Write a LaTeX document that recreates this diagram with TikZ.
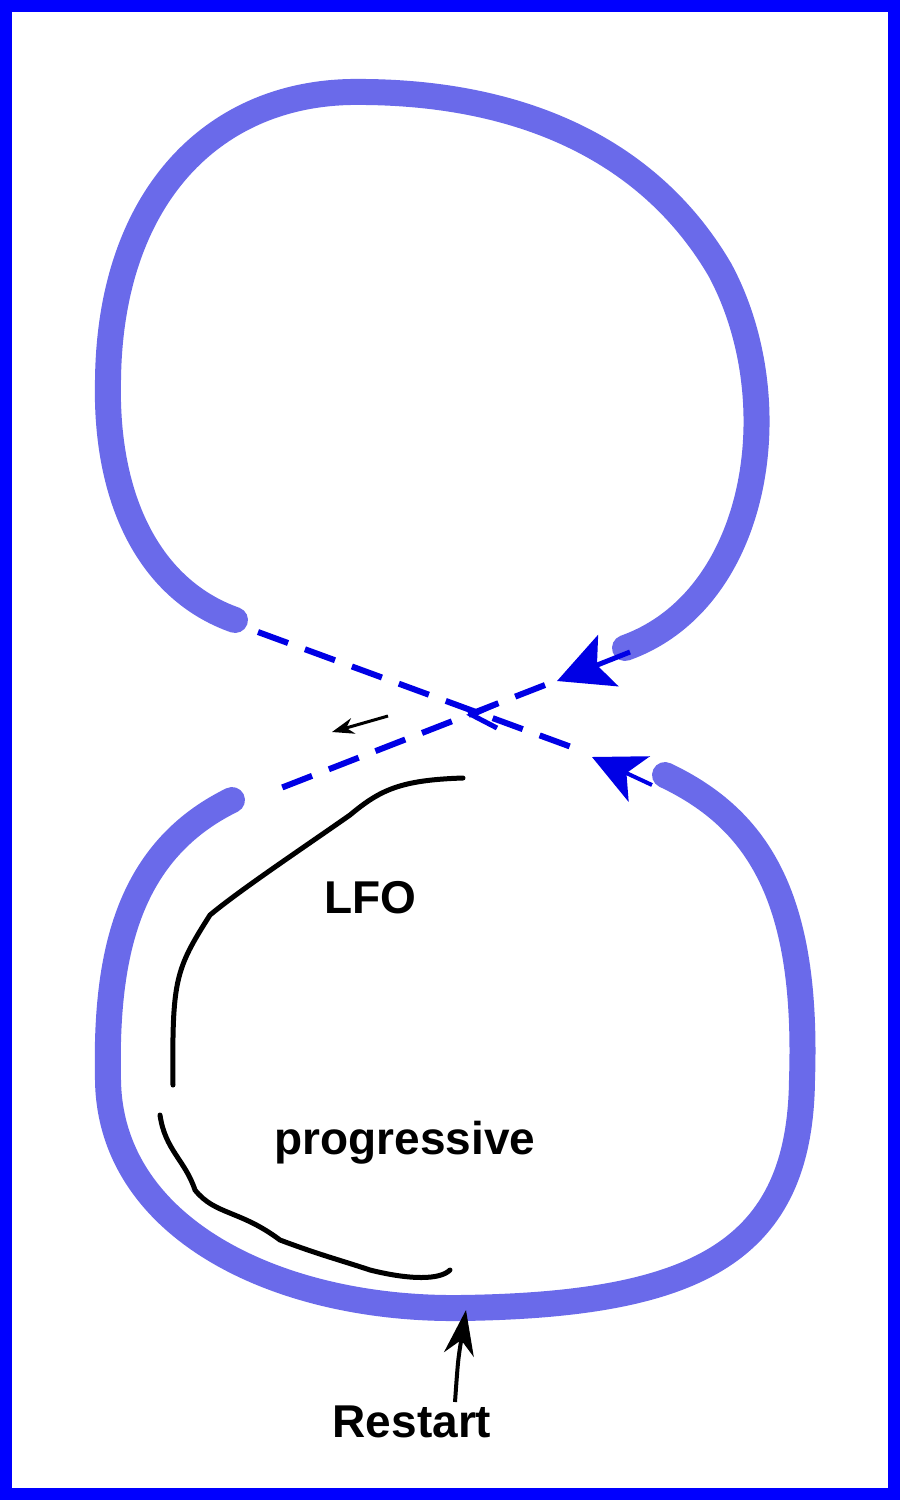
\documentclass[tikz,border=0pt]{standalone}
\usepackage{fontspec}
\setmainfont{Liberation Sans}
\usetikzlibrary{arrows.meta}
\definecolor{loopblue}{RGB}{80,80,230}
\begin{document}
\begin{tikzpicture}[x=1pt,y=-1pt,
  loop/.style={line width=26pt,loopblue,opacity=0.85,line cap=round},
  bluedash/.style={line width=6pt,blue!90!black,dash pattern=on 32pt off 18pt},
  lbl/.style={font=\bfseries\fontsize{46}{52}\selectfont}]
\useasboundingbox (0,0) rectangle (900,1500);
\draw[blue,line width=12pt] (6,6) rectangle (894,1494);
% top loop
\draw[loop] (235,620) .. controls (150,590) and (105,500) .. (108,380)
  .. controls (110,200) and (210,95) .. (350,92)
  .. controls (520,90) and (650,150) .. (720,270)
  .. controls (790,400) and (760,600) .. (625,648);
% bottom loop
\draw[loop] (232,800) .. controls (130,850) and (105,950) .. (108,1080)
  .. controls (110,1230) and (280,1310) .. (460,1308)
  .. controls (700,1305) and (800,1250) .. (802,1080)
  .. controls (808,900) and (760,820) .. (665,775);
% dashed cross
\coordinate (a1) at (258,632); \coordinate (a2) at (585,752);
\coordinate (b1) at (545,685); \coordinate (b2) at (268,793);
\draw[bluedash] (a1) -- (a2);
\draw[bluedash] (b1) -- (b2);
\draw[line width=5pt,blue!90!black] (497,704) -- (472,715) -- (497,728);
\coordinate (t1) at (630,652); \coordinate (t2) at (557,681);
\draw[blue!90!black,line width=5pt,-{Stealth[length=55pt,width=55pt,inset=12pt]}] (t1) -- (t2);
\coordinate (u1) at (652,785); \coordinate (u2) at (592,757);
\draw[blue!90!black,line width=4pt,-{Stealth[length=52pt,width=50pt,inset=14pt]}] (u1) -- (u2);
\coordinate (s1) at (388,716); \coordinate (s2) at (332,732);
\draw[black,line width=3pt,-{Stealth[length=22pt,width=16pt]}] (s1) -- (s2);
% black curves
\draw[line width=5pt,line cap=round] (463,778) .. controls (400,780) and (380,790) .. (350,815)
  .. controls (300,850) and (240,890) .. (210,915)
  .. controls (175,970) and (172,980) .. (173,1085);
\draw[line width=5pt,line cap=round] (160,1115) .. controls (165,1150) and (185,1160) .. (195,1190)
  .. controls (215,1215) and (240,1210) .. (280,1240)
  .. controls (320,1255) and (340,1260) .. (370,1270)
  .. controls (410,1280) and (440,1280) .. (450,1270);
% labels
\node[lbl] (lfo) at (370,898) {LFO};
\node[lbl] (prog) at (405,1143) {progressive};
\node[lbl] (rs) at (412,1422) {Restart};
\coordinate (rt) at (466,1310);
\draw[line width=4pt,-{Stealth[length=45pt,width=30pt]}] (455,1402) .. controls (458,1360) .. (rt);
\end{tikzpicture}
\end{document}
